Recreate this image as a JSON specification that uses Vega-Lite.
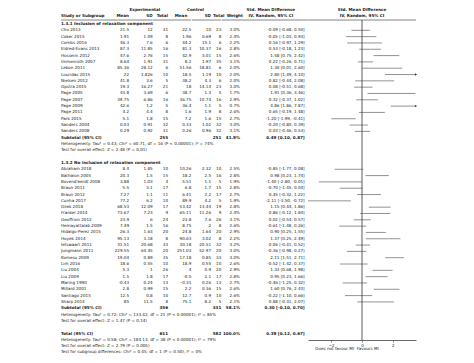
{
  "$schema": "https://vega.github.io/schema/vega-lite/v6.json",
  "padding": {"left": 60, "top": 0, "right": 0, "bottom": 0},
  "bounds": "flush",
  "spacing": 0,
  "config": {
    "view": {"stroke": null},
    "text": {"font": "DejaVu Sans", "fontSize": 4.1, "baseline": "middle", "color": "#1a1a1a"},
    "concat": {"spacing": 0}
  },
  "datasets": {
    "rows": [
      {"r": -2.2, "kind": "top", "esd": "Experimental", "csd": "Control", "ci": "Std. Mean Difference"},
      {"r": -1.27, "kind": "head", "label": "Study or Subgroup", "em": "Mean", "esd": "SD", "en": "Total", "cm": "Mean", "csd": "SD", "cn": "Total", "w": "Weight", "ci": "IV, Random, 95% CI"},
      {"r": 0, "kind": "group", "label": "1.3.1 Inclusion of relaxation component"},
      {"r": 1, "kind": "study", "label": "Cho 2013", "em": "21.5", "esd": "12", "en": "31", "cm": "22.5", "csd": "10", "cn": "23", "w": "3.0%", "ci": "-0.09 [-0.68, 0.50]", "smd": -0.09, "lo": -0.68, "hi": 0.50},
      {"r": 2, "kind": "study", "label": "Coker 2015", "em": "1.91", "esd": "1.09", "en": "8", "cm": "1.96", "csd": "0.69", "cn": "8", "w": "2.4%", "ci": "-0.05 [-1.03, 0.93]", "smd": -0.05, "lo": -1.03, "hi": 0.93},
      {"r": 3, "kind": "study", "label": "Combs 2016", "em": "46.3", "esd": "7.6", "en": "6", "cm": "44.2", "csd": "15.1", "cn": "6", "w": "2.2%", "ci": "0.16 [-0.97, 1.29]", "smd": 0.16, "lo": -0.97, "hi": 1.29},
      {"r": 4, "kind": "study", "label": "Eldred-Evans 2013", "em": "87.3", "esd": "11.85", "en": "16", "cm": "81.3", "csd": "10.37", "cn": "16", "w": "2.8%", "ci": "0.53 [-0.18, 1.23]", "smd": 0.53, "lo": -0.18, "hi": 1.23},
      {"r": 5, "kind": "study", "label": "Hosseini 2012", "em": "47.6", "esd": "2.76", "en": "15", "cm": "42.9", "csd": "3.01", "cn": "15", "w": "2.6%", "ci": "1.58 [0.75, 2.42]", "smd": 1.58, "lo": 0.75, "hi": 2.42},
      {"r": 6, "kind": "study", "label": "Immenroth 2007", "em": "8.64", "esd": "1.91", "en": "31", "cm": "8.2", "csd": "1.97", "cn": "35", "w": "3.1%", "ci": "0.22 [-0.26, 0.71]", "smd": 0.22, "lo": -0.26, "hi": 0.71},
      {"r": 7, "kind": "study", "label": "Lebon 2011", "em": "85.36", "esd": "28.12", "en": "6", "cm": "51.56", "csd": "18.81", "cn": "6", "w": "2.0%", "ci": "1.30 [0.01, 2.60]", "smd": 1.30, "lo": 0.01, "hi": 2.60},
      {"r": 8, "kind": "study", "label": "Louridas 2015", "em": "22", "esd": "1.826", "en": "10", "cm": "18.5", "csd": "1.19", "cn": "10", "w": "2.0%", "ci": "2.80 [1.49, 4.10]", "smd": 2.80, "lo": 1.49, "hi": 4.10},
      {"r": 9, "kind": "study", "label": "Nielsen 2012", "em": "41.8", "esd": "3.6", "en": "5", "cm": "38.2", "csd": "4.3", "cn": "6", "w": "2.0%", "ci": "0.82 [-0.44, 2.08]", "smd": 0.82, "lo": -0.44, "hi": 2.08},
      {"r": 10, "kind": "study", "label": "Opstra 2015", "em": "19.3", "esd": "16.27", "en": "21", "cm": "18", "csd": "14.14", "cn": "23", "w": "3.0%", "ci": "0.08 [-0.51, 0.68]", "smd": 0.08, "lo": -0.51, "hi": 0.68},
      {"r": 11, "kind": "study", "label": "Page 2005", "em": "43.8", "esd": "3.69", "en": "6", "cm": "38.7", "csd": "1.3", "cn": "5", "w": "1.7%", "ci": "1.91 [0.36, 3.46]", "smd": 1.91, "lo": 0.36, "hi": 3.46},
      {"r": 12, "kind": "study", "label": "Page 2007", "em": "39.75", "esd": "6.86", "en": "16", "cm": "36.75", "csd": "10.74", "cn": "16", "w": "2.9%", "ci": "0.32 [-0.37, 1.02]", "smd": 0.32, "lo": -0.37, "hi": 1.02},
      {"r": 13, "kind": "study", "label": "Page 2009", "em": "42.6", "esd": "1.2", "en": "5", "cm": "36.4", "csd": "1.1", "cn": "5", "w": "0.7%", "ci": "4.86 [1.86, 7.87]", "smd": 4.86, "lo": 1.86, "hi": 7.87},
      {"r": 14, "kind": "study", "label": "Page 2011", "em": "4.2", "esd": "4.4", "en": "8", "cm": "1.6", "csd": "1.9", "cn": "8", "w": "2.6%", "ci": "0.65 [-0.19, 1.48]", "smd": 0.65, "lo": -0.19, "hi": 1.48},
      {"r": 15, "kind": "study", "label": "Park 2015", "em": "5.1", "esd": "1.8", "en": "15", "cm": "7.2", "csd": "1.6", "cn": "15", "w": "2.7%", "ci": "-1.20 [-1.99, -0.41]", "smd": -1.20, "lo": -1.99, "hi": -0.41},
      {"r": 16, "kind": "study", "label": "Sanders 2004", "em": "0.03", "esd": "0.91", "en": "32", "cm": "0.33", "csd": "1.02", "cn": "32", "w": "3.0%", "ci": "-0.20 [-0.80, 0.39]", "smd": -0.20, "lo": -0.80, "hi": 0.39},
      {"r": 17, "kind": "study", "label": "Sanders 2008", "em": "0.29", "esd": "0.92", "en": "31", "cm": "0.26", "csd": "0.96", "cn": "32", "w": "3.1%", "ci": "0.03 [-0.46, 0.53]", "smd": 0.03, "lo": -0.46, "hi": 0.53},
      {"r": 18, "kind": "sub", "label": "Subtotal (95% CI)", "en": "255", "cn": "251", "w": "41.9%", "ci": "0.49 [0.10, 0.87]", "smd": 0.49, "lo": 0.10, "hi": 0.87},
      {"r": 19, "kind": "note", "label": "Heterogeneity: Tau² = 0.43; Chi² = 60.71, df = 16 (P < 0.00001); I² = 74%"},
      {"r": 20, "kind": "note", "label": "Test for overall effect: Z = 2.48 (P = 0.01)"},
      {"r": 22, "kind": "group", "label": "1.3.2 No inclusion of relaxation component"},
      {"r": 23, "kind": "study", "label": "Abraham 2018", "em": "8.4", "esd": "1.85", "en": "10", "cm": "10.26", "csd": "2.32", "cn": "10", "w": "2.5%", "ci": "-0.85 [-1.77, 0.08]", "smd": -0.85, "lo": -1.77, "hi": 0.08},
      {"r": 24, "kind": "study", "label": "Bathalon 2005", "em": "20.3", "esd": "1.5", "en": "15", "cm": "18.2", "csd": "2.5", "cn": "16", "w": "2.8%", "ci": "0.98 [0.23, 1.74]", "smd": 0.98, "lo": 0.23, "hi": 1.74},
      {"r": 25, "kind": "study", "label": "Bovend'eerdt 2008", "em": "3.88", "esd": "1.03", "en": "4", "cm": "5.51", "csd": "1.1", "cn": "5", "w": "1.9%", "ci": "-1.40 [-2.80, -0.01]", "smd": -1.40, "lo": -2.80, "hi": -0.01},
      {"r": 26, "kind": "study", "label": "Braun 2011", "em": "5.5", "esd": "3.1", "en": "17", "cm": "6.8", "csd": "1.7", "cn": "15", "w": "2.8%", "ci": "-0.70 [-1.45, 0.04]", "smd": -0.70, "lo": -1.45, "hi": 0.04},
      {"r": 27, "kind": "study", "label": "Braun 2012", "em": "7.27", "esd": "1.1", "en": "11", "cm": "6.41", "csd": "2.2", "cn": "17", "w": "2.7%", "ci": "0.45 [-0.32, 1.22]", "smd": 0.45, "lo": -0.32, "hi": 1.22},
      {"r": 28, "kind": "study", "label": "Cunha 2017", "em": "77.2", "esd": "6.2", "en": "10", "cm": "89.9", "csd": "4.2", "cn": "5", "w": "1.9%", "ci": "-2.11 [-3.50, -0.72]", "smd": -2.11, "lo": -3.50, "hi": -0.72},
      {"r": 29, "kind": "study", "label": "Dilek 2018", "em": "68.53", "esd": "12.09", "en": "17", "cm": "53.42", "csd": "13.44", "cn": "19", "w": "2.8%", "ci": "1.15 [0.44, 1.86]", "smd": 1.15, "lo": 0.44, "hi": 1.86},
      {"r": 30, "kind": "study", "label": "Frankel 2014", "em": "73.67", "esd": "7.23", "en": "9", "cm": "65.11", "csd": "11.26", "cn": "9", "w": "2.4%", "ci": "0.86 [-0.12, 1.84]", "smd": 0.86, "lo": -0.12, "hi": 1.84},
      {"r": 31, "kind": "study", "label": "Geoffrion 2012", "em": "23.9", "esd": "6", "en": "24", "cm": "23.8", "csd": "7.6", "cn": "26", "w": "3.1%", "ci": "0.02 [-0.54, 0.57]", "smd": 0.02, "lo": -0.54, "hi": 0.57},
      {"r": 32, "kind": "study", "label": "Hemayattalab 2009", "em": "7.49", "esd": "1.5", "en": "16", "cm": "8.75", "csd": "2", "cn": "8", "w": "2.6%", "ci": "-0.61 [-1.48, 0.26]", "smd": -0.61, "lo": -1.48, "hi": 0.26},
      {"r": 33, "kind": "study", "label": "Hidalgo-Perez 2015", "em": "26.3", "esd": "1.63", "en": "20", "cm": "24.8", "csd": "1.64", "cn": "20", "w": "2.9%", "ci": "0.90 [0.25, 1.55]", "smd": 0.90, "lo": 0.25, "hi": 1.55},
      {"r": 34, "kind": "study", "label": "Hoyek 2014", "em": "95.13", "esd": "3.18", "en": "8", "cm": "90.63", "csd": "3.02", "cn": "8", "w": "2.2%", "ci": "1.37 [0.25, 2.49]", "smd": 1.37, "lo": 0.25, "hi": 2.49},
      {"r": 35, "kind": "study", "label": "Ietswaart 2011", "em": "31.51", "esd": "20.68", "en": "33", "cm": "30.18", "csd": "20.51", "cn": "32", "w": "3.2%", "ci": "0.06 [-0.41, 0.52]", "smd": 0.06, "lo": -0.41, "hi": 0.52},
      {"r": 36, "kind": "study", "label": "Jungmann 2011", "em": "229.55", "esd": "64.45", "en": "20", "cm": "251.03", "csd": "52.97", "cn": "20", "w": "3.0%", "ci": "-0.36 [-0.98, 0.27]", "smd": -0.36, "lo": -0.98, "hi": 0.27},
      {"r": 37, "kind": "study", "label": "Komesu 2009", "em": "19.04", "esd": "0.89", "en": "35", "cm": "17.18", "csd": "0.85", "cn": "33", "w": "3.0%", "ci": "2.11 [1.51, 2.71]", "smd": 2.11, "lo": 1.51, "hi": 2.71},
      {"r": 38, "kind": "study", "label": "Lim 2016", "em": "18.6", "esd": "0.55", "en": "10", "cm": "18.9", "csd": "0.55", "cn": "10", "w": "2.6%", "ci": "-0.52 [-1.42, 0.37]", "smd": -0.52, "lo": -1.42, "hi": 0.37},
      {"r": 39, "kind": "study", "label": "Liu 2004", "em": "5.3", "esd": "1", "en": "26", "cm": "4", "csd": "0.9", "cn": "20", "w": "2.9%", "ci": "1.33 [0.68, 1.98]", "smd": 1.33, "lo": 0.68, "hi": 1.98},
      {"r": 40, "kind": "study", "label": "Liu 2009", "em": "1.5", "esd": "1.8", "en": "17", "cm": "-0.5", "csd": "2.1", "cn": "17", "w": "2.8%", "ci": "0.95 [0.23, 1.66]", "smd": 0.95, "lo": 0.23, "hi": 1.66},
      {"r": 41, "kind": "study", "label": "Maring 1990", "em": "-0.43", "esd": "0.24", "en": "13", "cm": "-0.31", "csd": "0.26", "cn": "13", "w": "2.7%", "ci": "-0.46 [-1.25, 0.32]", "smd": -0.46, "lo": -1.25, "hi": 0.32},
      {"r": 42, "kind": "study", "label": "Millard 2001", "em": "2.8", "esd": "0.99", "en": "15", "cm": "2.2", "csd": "0.36", "cn": "15", "w": "2.6%", "ci": "1.60 [0.76, 2.43]", "smd": 1.60, "lo": 0.76, "hi": 2.43},
      {"r": 43, "kind": "study", "label": "Santiago 2015", "em": "12.5", "esd": "0.8", "en": "10", "cm": "12.7", "csd": "0.9", "cn": "10", "w": "2.6%", "ci": "-0.22 [-1.10, 0.66]", "smd": -0.22, "lo": -1.10, "hi": 0.66},
      {"r": 44, "kind": "study", "label": "Sharp 2014", "em": "85", "esd": "11.5", "en": "8", "cm": "75.1", "csd": "8.2", "cn": "5", "w": "2.1%", "ci": "0.88 [-0.31, 2.07]", "smd": 0.88, "lo": -0.31, "hi": 2.07},
      {"r": 45, "kind": "sub", "label": "Subtotal (95% CI)", "en": "356", "cn": "331", "w": "58.1%", "ci": "0.30 [-0.10, 0.70]", "smd": 0.30, "lo": -0.10, "hi": 0.70},
      {"r": 46, "kind": "note", "label": "Heterogeneity: Tau² = 0.72; Chi² = 133.42, df = 21 (P < 0.00001); I² = 85%"},
      {"r": 47, "kind": "note", "label": "Test for overall effect: Z = 1.47 (P = 0.14)"},
      {"r": 49, "kind": "total", "label": "Total (95% CI)", "en": "611", "cn": "582", "w": "100.0%", "ci": "0.39 [0.12, 0.67]", "smd": 0.39, "lo": 0.12, "hi": 0.67},
      {"r": 50, "kind": "note", "label": "Heterogeneity: Tau² = 0.58; Chi² = 184.13, df = 38 (P < 0.00001); I² = 79%"},
      {"r": 51, "kind": "note", "label": "Test for overall effect: Z = 2.79 (P = 0.005)"},
      {"r": 52, "kind": "note", "label": "Test for subgroup differences: Chi² = 0.45, df = 1 (P = 0.50), I² = 0%"}
    ]
  },
  "data": {"name": "rows"},
  "hconcat": [
    {
      "width": 68, "height": 363,
      "layer": [
        {"data": {"values": [{}]}, "mark": {"type": "rule", "color": "#333", "strokeWidth": 0.6},
         "encoding": {"y": {"datum": -0.63, "type": "quantitative", "scale": {"domain": [-3.8, 53.67], "reverse": true, "nice": false, "zero": false}, "axis": null}}},
        {"transform": [{"filter": "datum.kind == 'study' || datum.kind == 'note'"}],
         "mark": {"type": "text", "align": "left"},
         "encoding": {"x": {"value": 0}, "y": {"field": "r", "type": "quantitative", "scale": {"domain": [-3.8, 53.67], "reverse": true, "nice": false, "zero": false}, "axis": null}, "text": {"field": "label"}}},
        {"transform": [{"filter": "datum.kind == 'head' || datum.kind == 'group' || datum.kind == 'sub' || datum.kind == 'total'"}],
         "mark": {"type": "text", "align": "left", "fontWeight": "bold"},
         "encoding": {"x": {"value": 0}, "y": {"field": "r", "type": "quantitative", "scale": {"domain": [-3.8, 53.67], "reverse": true, "nice": false, "zero": false}, "axis": null}, "text": {"field": "label"}}},
        {"transform": [{"filter": "datum.kind == 'study'"}],
         "mark": {"type": "text", "align": "right"},
         "encoding": {"x": {"value": "width"}, "y": {"field": "r", "type": "quantitative", "scale": {"domain": [-3.8, 53.67], "reverse": true, "nice": false, "zero": false}, "axis": null}, "text": {"field": "em"}}},
        {"transform": [{"filter": "datum.kind == 'head'"}],
         "mark": {"type": "text", "align": "right", "fontWeight": "bold"},
         "encoding": {"x": {"value": "width"}, "y": {"field": "r", "type": "quantitative", "scale": {"domain": [-3.8, 53.67], "reverse": true, "nice": false, "zero": false}, "axis": null}, "text": {"field": "em"}}}
      ]
    },
    {
      "width": 23.7, "height": 363,
      "layer": [
        {"data": {"values": [{}]}, "mark": {"type": "rule", "color": "#333", "strokeWidth": 0.6},
         "encoding": {"y": {"datum": -0.63, "type": "quantitative", "scale": {"domain": [-3.8, 53.67], "reverse": true, "nice": false, "zero": false}, "axis": null}}},
        {"transform": [{"filter": "datum.kind == 'study'"}],
         "mark": {"type": "text", "align": "right"},
         "encoding": {"x": {"value": "width"}, "y": {"field": "r", "type": "quantitative", "scale": {"domain": [-3.8, 53.67], "reverse": true, "nice": false, "zero": false}, "axis": null}, "text": {"field": "esd"}}},
        {"transform": [{"filter": "datum.kind == 'head'"}],
         "mark": {"type": "text", "align": "right", "fontWeight": "bold"},
         "encoding": {"x": {"value": "width"}, "y": {"field": "r", "type": "quantitative", "scale": {"domain": [-3.8, 53.67], "reverse": true, "nice": false, "zero": false}, "axis": null}, "text": {"field": "esd"}}},
        {"transform": [{"filter": "datum.kind == 'top'"}],
         "mark": {"type": "text", "align": "center", "fontWeight": "bold", "dx": 4},
         "encoding": {"y": {"field": "r", "type": "quantitative", "scale": {"domain": [-3.8, 53.67], "reverse": true, "nice": false, "zero": false}, "axis": null}, "text": {"field": "esd"}}}
      ]
    },
    {
      "width": 15, "height": 363,
      "layer": [
        {"data": {"values": [{}]}, "mark": {"type": "rule", "color": "#333", "strokeWidth": 0.6},
         "encoding": {"y": {"datum": -0.63, "type": "quantitative", "scale": {"domain": [-3.8, 53.67], "reverse": true, "nice": false, "zero": false}, "axis": null}}},
        {"transform": [{"filter": "datum.kind == 'study'"}],
         "mark": {"type": "text", "align": "right"},
         "encoding": {"x": {"value": "width"}, "y": {"field": "r", "type": "quantitative", "scale": {"domain": [-3.8, 53.67], "reverse": true, "nice": false, "zero": false}, "axis": null}, "text": {"field": "en"}}},
        {"transform": [{"filter": "datum.kind == 'head' || datum.kind == 'sub' || datum.kind == 'total'"}],
         "mark": {"type": "text", "align": "right", "fontWeight": "bold"},
         "encoding": {"x": {"value": "width"}, "y": {"field": "r", "type": "quantitative", "scale": {"domain": [-3.8, 53.67], "reverse": true, "nice": false, "zero": false}, "axis": null}, "text": {"field": "en"}}}
      ]
    },
    {
      "width": 23.3, "height": 363,
      "layer": [
        {"data": {"values": [{}]}, "mark": {"type": "rule", "color": "#333", "strokeWidth": 0.6},
         "encoding": {"y": {"datum": -0.63, "type": "quantitative", "scale": {"domain": [-3.8, 53.67], "reverse": true, "nice": false, "zero": false}, "axis": null}}},
        {"transform": [{"filter": "datum.kind == 'study'"}],
         "mark": {"type": "text", "align": "right"},
         "encoding": {"x": {"value": "width"}, "y": {"field": "r", "type": "quantitative", "scale": {"domain": [-3.8, 53.67], "reverse": true, "nice": false, "zero": false}, "axis": null}, "text": {"field": "cm"}}},
        {"transform": [{"filter": "datum.kind == 'head'"}],
         "mark": {"type": "text", "align": "right", "fontWeight": "bold", "dx": -4},
         "encoding": {"x": {"value": "width"}, "y": {"field": "r", "type": "quantitative", "scale": {"domain": [-3.8, 53.67], "reverse": true, "nice": false, "zero": false}, "axis": null}, "text": {"field": "cm"}}}
      ]
    },
    {
      "width": 19, "height": 363,
      "layer": [
        {"data": {"values": [{}]}, "mark": {"type": "rule", "color": "#333", "strokeWidth": 0.6},
         "encoding": {"y": {"datum": -0.63, "type": "quantitative", "scale": {"domain": [-3.8, 53.67], "reverse": true, "nice": false, "zero": false}, "axis": null}}},
        {"transform": [{"filter": "datum.kind == 'study'"}],
         "mark": {"type": "text", "align": "right"},
         "encoding": {"x": {"value": "width"}, "y": {"field": "r", "type": "quantitative", "scale": {"domain": [-3.8, 53.67], "reverse": true, "nice": false, "zero": false}, "axis": null}, "text": {"field": "csd"}}},
        {"transform": [{"filter": "datum.kind == 'head'"}],
         "mark": {"type": "text", "align": "right", "fontWeight": "bold"},
         "encoding": {"x": {"value": "width"}, "y": {"field": "r", "type": "quantitative", "scale": {"domain": [-3.8, 53.67], "reverse": true, "nice": false, "zero": false}, "axis": null}, "text": {"field": "csd"}}},
        {"transform": [{"filter": "datum.kind == 'top'"}],
         "mark": {"type": "text", "align": "center", "fontWeight": "bold", "dx": -6},
         "encoding": {"y": {"field": "r", "type": "quantitative", "scale": {"domain": [-3.8, 53.67], "reverse": true, "nice": false, "zero": false}, "axis": null}, "text": {"field": "csd"}}}
      ]
    },
    {
      "width": 10.3, "height": 363,
      "layer": [
        {"data": {"values": [{}]}, "mark": {"type": "rule", "color": "#333", "strokeWidth": 0.6},
         "encoding": {"y": {"datum": -0.63, "type": "quantitative", "scale": {"domain": [-3.8, 53.67], "reverse": true, "nice": false, "zero": false}, "axis": null}}},
        {"transform": [{"filter": "datum.kind == 'study'"}],
         "mark": {"type": "text", "align": "right"},
         "encoding": {"x": {"value": "width"}, "y": {"field": "r", "type": "quantitative", "scale": {"domain": [-3.8, 53.67], "reverse": true, "nice": false, "zero": false}, "axis": null}, "text": {"field": "cn"}}},
        {"transform": [{"filter": "datum.kind == 'sub' || datum.kind == 'total'"}],
         "mark": {"type": "text", "align": "right", "fontWeight": "bold"},
         "encoding": {"x": {"value": "width"}, "y": {"field": "r", "type": "quantitative", "scale": {"domain": [-3.8, 53.67], "reverse": true, "nice": false, "zero": false}, "axis": null}, "text": {"field": "cn"}}},
        {"transform": [{"filter": "datum.kind == 'head'"}],
         "mark": {"type": "text", "align": "right", "fontWeight": "bold", "dx": 3},
         "encoding": {"x": {"value": "width"}, "y": {"field": "r", "type": "quantitative", "scale": {"domain": [-3.8, 53.67], "reverse": true, "nice": false, "zero": false}, "axis": null}, "text": {"field": "cn"}}}
      ]
    },
    {
      "width": 18, "height": 363,
      "layer": [
        {"data": {"values": [{}]}, "mark": {"type": "rule", "color": "#333", "strokeWidth": 0.6},
         "encoding": {"y": {"datum": -0.63, "type": "quantitative", "scale": {"domain": [-3.8, 53.67], "reverse": true, "nice": false, "zero": false}, "axis": null}}},
        {"transform": [{"filter": "datum.kind == 'study'"}],
         "mark": {"type": "text", "align": "right"},
         "encoding": {"x": {"value": "width"}, "y": {"field": "r", "type": "quantitative", "scale": {"domain": [-3.8, 53.67], "reverse": true, "nice": false, "zero": false}, "axis": null}, "text": {"field": "w"}}},
        {"transform": [{"filter": "datum.kind == 'sub' || datum.kind == 'total'"}],
         "mark": {"type": "text", "align": "right", "fontWeight": "bold"},
         "encoding": {"x": {"value": "width"}, "y": {"field": "r", "type": "quantitative", "scale": {"domain": [-3.8, 53.67], "reverse": true, "nice": false, "zero": false}, "axis": null}, "text": {"field": "w"}}},
        {"transform": [{"filter": "datum.kind == 'head'"}],
         "mark": {"type": "text", "align": "right", "fontWeight": "bold", "dx": 3},
         "encoding": {"x": {"value": "width"}, "y": {"field": "r", "type": "quantitative", "scale": {"domain": [-3.8, 53.67], "reverse": true, "nice": false, "zero": false}, "axis": null}, "text": {"field": "w"}}}
      ]
    },
    {
      "width": 67.7, "height": 363,
      "layer": [
        {"data": {"values": [{}]}, "mark": {"type": "rule", "color": "#333", "strokeWidth": 0.6},
         "encoding": {"y": {"datum": -0.63, "type": "quantitative", "scale": {"domain": [-3.8, 53.67], "reverse": true, "nice": false, "zero": false}, "axis": null}}},
        {"transform": [{"filter": "datum.kind == 'study'"}],
         "mark": {"type": "text", "align": "right", "dx": -3},
         "encoding": {"x": {"value": "width"}, "y": {"field": "r", "type": "quantitative", "scale": {"domain": [-3.8, 53.67], "reverse": true, "nice": false, "zero": false}, "axis": null}, "text": {"field": "ci"}}},
        {"transform": [{"filter": "datum.kind == 'sub' || datum.kind == 'total'"}],
         "mark": {"type": "text", "align": "right", "fontWeight": "bold", "dx": -3},
         "encoding": {"x": {"value": "width"}, "y": {"field": "r", "type": "quantitative", "scale": {"domain": [-3.8, 53.67], "reverse": true, "nice": false, "zero": false}, "axis": null}, "text": {"field": "ci"}}},
        {"transform": [{"filter": "datum.kind == 'top' || datum.kind == 'head'"}],
         "mark": {"type": "text", "align": "center", "fontWeight": "bold", "dx": -3},
         "encoding": {"y": {"field": "r", "type": "quantitative", "scale": {"domain": [-3.8, 53.67], "reverse": true, "nice": false, "zero": false}, "axis": null}, "text": {"field": "ci"}}}
      ]
    },
    {
      "width": 108, "height": 340,
      "layer": [
        {"transform": [{"filter": "datum.kind == 'study'"}],
         "mark": {"type": "rule", "color": "#777", "strokeWidth": 0.8},
         "encoding": {
           "x": {"field": "lo", "type": "quantitative", "scale": {"domain": [-3.5, 3.5], "nice": false, "zero": false, "clamp": true},
                 "axis": {"values": [-2, -1, 0, 1, 2], "title": null, "grid": false, "labelFontSize": 4, "labelFont": "DejaVu Sans", "labelColor": "#222", "tickSize": 2, "tickColor": "#444", "tickWidth": 0.6, "domainColor": "#444", "domainWidth": 0.8, "labelPadding": 1, "labelFlush": false}},
           "x2": {"field": "hi"},
           "y": {"field": "r", "type": "quantitative", "scale": {"domain": [-3.8, 50.03], "reverse": true, "nice": false, "zero": false}, "axis": null}}},
        {"data": {"values": [{}]}, "mark": {"type": "rule", "color": "#333", "strokeWidth": 0.6},
         "encoding": {"y": {"datum": -0.63, "type": "quantitative", "axis": null}}},
        {"data": {"values": [{}]}, "mark": {"type": "rule", "color": "#333", "strokeWidth": 0.8},
         "encoding": {"x": {"datum": 0, "type": "quantitative"}, "y": {"datum": -0.63, "type": "quantitative", "axis": null}, "y2": {"datum": 50.03}}},
        {"transform": [{"filter": "datum.kind == 'study' && datum.hi > 3.5"}],
         "mark": {"type": "point", "shape": "triangle-right", "filled": true, "size": 6, "color": "#333", "opacity": 1},
         "encoding": {"x": {"field": "hi", "type": "quantitative", "title": null}, "y": {"field": "r", "type": "quantitative", "axis": null}}},
        {"transform": [{"filter": "datum.kind == 'top' || datum.kind == 'head'"}],
         "mark": {"type": "text", "align": "center", "fontWeight": "bold"},
         "encoding": {"x": {"datum": 0, "type": "quantitative"}, "y": {"field": "r", "type": "quantitative", "axis": null}, "text": {"field": "ci"}}},
        {"data": {"values": [{}]}, "mark": {"type": "text", "align": "center"},
         "encoding": {"x": {"datum": -1.77, "type": "quantitative"}, "y": {"datum": 51.5, "type": "quantitative", "axis": null}, "text": {"value": "Does not favour MI"}}},
        {"data": {"values": [{}]}, "mark": {"type": "text", "align": "center"},
         "encoding": {"x": {"datum": 0.37, "type": "quantitative"}, "y": {"datum": 51.5, "type": "quantitative", "axis": null}, "text": {"value": "Favours MI"}}}
      ]
    }
  ]
}
